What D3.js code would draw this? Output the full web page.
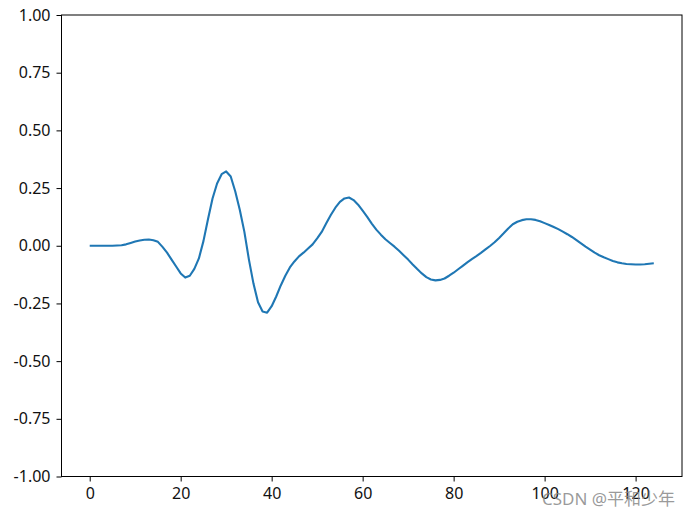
<!DOCTYPE html>
<html>
<head>
<meta charset="utf-8">
<script src="https://cdn.jsdelivr.net/npm/d3@7"></script>
<style>
  body { margin: 0; background: #fff; }
  svg text { font-family: "Noto Sans", "Noto Sans CJK SC", sans-serif; }
</style>
</head>
<body>
<svg id="chart"></svg>
<script>
const width = 692;
const height = 514;
const margin = { left: 61.5, right: 10, top: 15, bottom: 37.5 };

// signal samples, one per index 0..124
const values = [
    0, 0, 0, 0, 0, 0, 0.001, 0.002, 0.006, 0.012,
    0.018, 0.023, 0.026, 0.027, 0.024, 0.017, -0.005, -0.03, -0.06, -0.09,
    -0.12, -0.138, -0.13, -0.1, -0.055, 0.02, 0.115, 0.205, 0.27, 0.31,
    0.322, 0.3, 0.235, 0.155, 0.06, -0.06, -0.164, -0.245, -0.285, -0.29,
    -0.262, -0.22, -0.172, -0.13, -0.094, -0.068, -0.046, -0.03, -0.012, 0.006,
    0.032, 0.06, 0.097, 0.133, 0.165, 0.19, 0.205, 0.209, 0.198, 0.178,
    0.152, 0.125, 0.096, 0.07, 0.048, 0.028, 0.012, -0.004, -0.022, -0.041,
    -0.06, -0.081, -0.101, -0.12, -0.136, -0.146, -0.15, -0.148, -0.142, -0.13,
    -0.117, -0.102, -0.087, -0.072, -0.058, -0.045, -0.031, -0.016, -0.001, 0.015,
    0.034, 0.054, 0.075, 0.093, 0.104, 0.111, 0.115, 0.115, 0.112, 0.106,
    0.098, 0.09, 0.081, 0.072, 0.061, 0.05, 0.038, 0.024, 0.01, -0.004,
    -0.017, -0.03, -0.041, -0.05, -0.058, -0.066, -0.072, -0.076, -0.079, -0.08,
    -0.081, -0.081, -0.08, -0.078, -0.076
];
const xTicks = [0, 20, 40, 60, 80, 100, 120];
const yTicks = [-1, -0.75, -0.5, -0.25, 0, 0.25, 0.5, 0.75, 1];
const watermark = "CSDN @平和少年";

const svg = d3.select('svg#chart').attr('width', width).attr('height', height);

const n = values.length - 1;
const pad = n * 0.05;
const x = d3.scaleLinear().domain([-pad, n + pad]).range([margin.left, width - margin.right]);
const y = d3.scaleLinear().domain([-1, 1]).range([height - margin.bottom, margin.top]);

// line
const line = d3.line().x((d, i) => x(i)).y(d => y(d));
svg.append('path')
    .datum(values)
    .attr('d', line)
    .attr('fill', 'none')
    .attr('stroke', '#1f77b4')
    .attr('stroke-width', 2.1)
    .attr('stroke-linejoin', 'round');

// axes
const xAxis = svg.append('g')
    .attr('transform', 'translate(0,' + (height - margin.bottom) + ')')
    .call(d3.axisBottom(x).tickValues(xTicks).tickSize(5).tickPadding(6).tickSizeOuter(0));
const yAxis = svg.append('g')
    .attr('transform', 'translate(' + margin.left + ',0)')
    .call(d3.axisLeft(y).tickValues(yTicks).tickSize(5).tickPadding(6).tickSizeOuter(0)
        .tickFormat(d => d3.format('.2f')(d).replace('−', '-')));

[xAxis, yAxis].forEach(g => {
    g.select('.domain').remove();
    g.selectAll('line').attr('stroke', '#000').attr('stroke-width', 1);
    g.selectAll('text').attr('fill', '#111').style('font-size', '16px');
});

// frame
svg.append('rect')
    .attr('x', margin.left)
    .attr('y', margin.top)
    .attr('width', width - margin.left - margin.right)
    .attr('height', height - margin.top - margin.bottom)
    .attr('fill', 'none')
    .attr('stroke', '#000')
    .attr('stroke-width', 1);

// watermark
svg.append('text')
    .attr('x', 542)
    .attr('y', 505)
    .attr('fill', '#888')
    .attr('fill-opacity', 0.85)
    .style('font-size', '17px')
    .text(watermark);
</script>
</body>
</html>
